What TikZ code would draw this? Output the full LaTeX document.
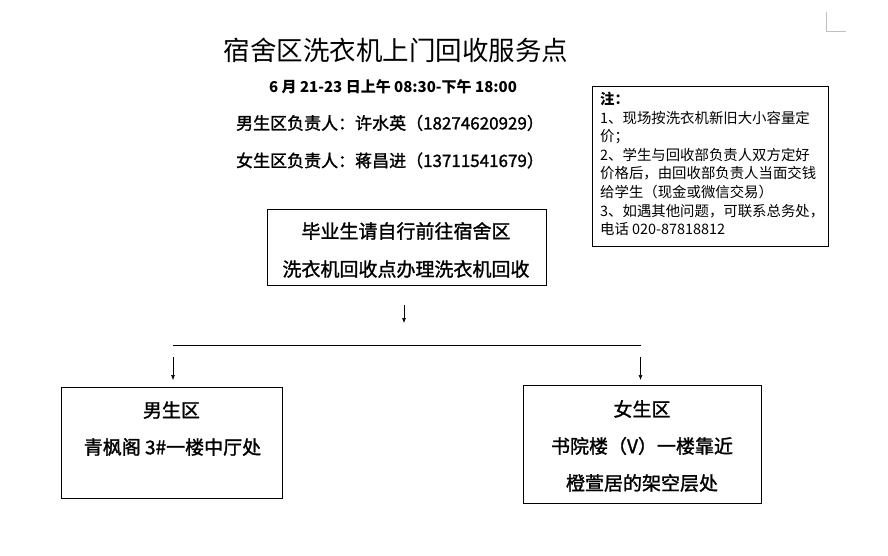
\documentclass[tikz,border=0pt]{standalone}
\usepackage{fontspec}
\setmainfont{Noto Sans CJK SC}
\newfontfamily\cjkb{Noto Sans CJK SC}[FakeBold=1.4]
\usetikzlibrary{arrows.meta}
\tikzset{
  box/.style={draw=black, line width=0.8pt, minimum width=#1, inner sep=0pt},
  txt/.style={inner sep=0pt, anchor=center},
  notetxt/.style={inner sep=0pt, anchor=west, font=\fontsize{14.4}{17}\selectfont},
  arr/.style={-{Latex[length=5pt,width=4pt]}, line width=0.6pt},
  bodyfont/.style={font=\cjkb\fontsize{19}{23}\selectfont},
  headfont/.style={font=\cjkb\fontsize{17}{20}\selectfont}
}
\begin{document}
\begin{tikzpicture}[x=1pt,y=-1pt]
\useasboundingbox (0,0) rectangle (888,556);
\fill[white] (0,0) rectangle (888,556);
% page corner mark
\draw[gray!50, line width=0.6pt] (826,12) -- (826,31) -- (846,31);
% heading texts
\node[txt, font=\fontsize{26.5}{30}\selectfont] (title) at (396,50) {宿舍区洗衣机上门回收服务点};
\node[txt, font=\bfseries\fontsize{15}{18}\selectfont] (date) at (393,86.5) {6 月 21-23 日上午 08:30-下午 18:00};
\node[txt, headfont] (male) at (390,123) {男生区负责人：许水英（18274620929）};
\node[txt, headfont] (female) at (390,160.5) {女生区负责人：蒋昌进（13711541679）};
% note box
\node[box=236pt, minimum height=160pt] (note) at (710,166) {};
\node[notetxt, font=\bfseries\fontsize{14.4}{17}\selectfont] (n0) at (600,99) {注：};
\node[notetxt] (n1) at (600,118) {1、现场按洗衣机新旧大小容量定};
\node[notetxt] (n2) at (600,137) {价；};
\node[notetxt] (n3) at (600,155) {2、学生与回收部负责人双方定好};
\node[notetxt] (n4) at (600,173.5) {价格后，由回收部负责人当面交钱};
\node[notetxt] (n5) at (600,192) {给学生（现金或微信交易）};
\node[notetxt] (n6) at (600,211) {3、如遇其他问题，可联系总务处，};
\node[notetxt] (n7) at (600,229) {电话 020-87818812};
% main box
\node[box=279pt, minimum height=76pt] (b1) at (406.5,247) {};
\node[txt, bodyfont] (b1a) at (406,231) {毕业生请自行前往宿舍区};
\node[txt, bodyfont] (b1b) at (406,269) {洗衣机回收点办理洗衣机回收};
% connectors
\coordinate (a1s) at (404,305);
\coordinate (a1e) at (404,323);
\draw[arr] (a1s) -- (a1e);
\coordinate (hl) at (173,345);
\coordinate (hr) at (641,345);
\draw[line width=0.6pt] (hl) -- (hr);
\coordinate (l1s) at (173,357);
\coordinate (l1e) at (173,380);
\coordinate (r1s) at (640.5,357);
\coordinate (r1e) at (640.5,380);
\draw[arr] (l1s) -- (l1e);
\draw[arr] (r1s) -- (r1e);
% left box
\node[box=221pt, minimum height=111pt] (bl) at (171.5,442.5) {};
\node[txt, bodyfont] (bl1) at (171.5,410) {男生区};
\node[txt, bodyfont] (bl2) at (172.5,447) {青枫阁 3\#一楼中厅处};
% right box
\node[box=238pt, minimum height=118pt] (br) at (642,444) {};
\node[txt, bodyfont] (br1) at (642,409) {女生区};
\node[txt, bodyfont] (br2) at (642,446) {书院楼（V）一楼靠近};
\node[txt, bodyfont] (br3) at (642,483) {橙萱居的架空层处};
\end{tikzpicture}
\end{document}
